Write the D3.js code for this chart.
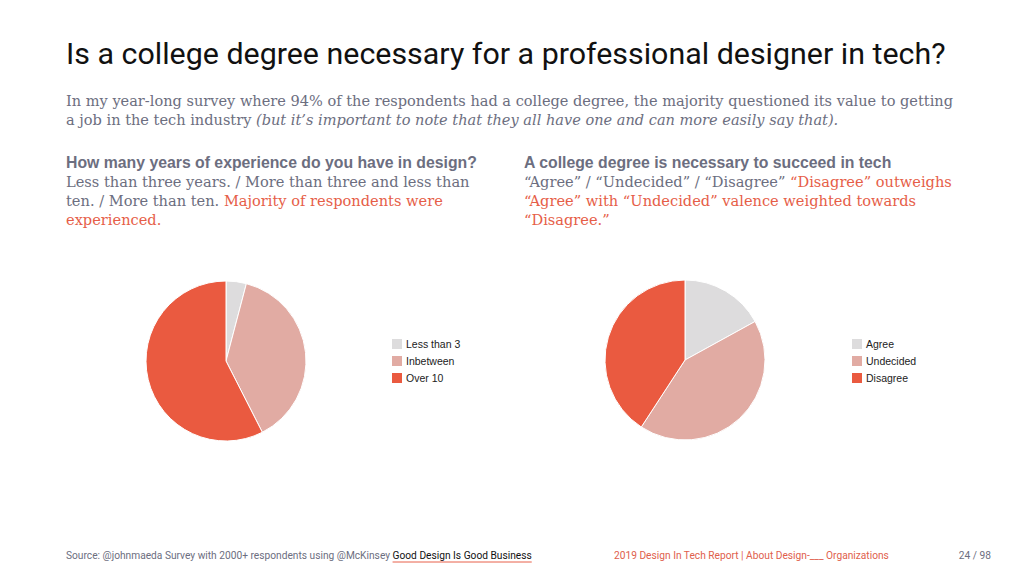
<!DOCTYPE html>
<html><head><meta charset="utf-8">
<script src="https://cdn.jsdelivr.net/npm/d3@7"></script>
<style>
body{margin:0;background:#fff;}
svg{display:block;}
</style></head>
<body>
<svg id="chart" width="1024" height="575"></svg>
<script>
const experienceCategories = ["Less than 3", "Inbetween", "Over 10"];
const experienceValues = [4.1, 38.4, 57.5];
const degreeCategories = ["Agree", "Undecided", "Disagree"];
const degreeValues = [17.0, 42.2, 40.8];
const sliceColors = ["#dddcdd", "#e1aba3", "#ea5a40"];

const GRAY = "#6c6e80", RED = "#e65e48";
const svg = d3.select("#chart");
svg.append("rect").attr("width",1024).attr("height",575).attr("fill","#fff");

// Title
svg.append("text").attr("x",66).attr("y",64)
  .attr("font-family","Roboto").attr("font-size",30.4).attr("fill","#111")
  .text("Is a college degree necessary for a professional designer in tech?");

function rich(x, y, lines, opts){
  const t = svg.append("text").attr("x",x).attr("y",y)
    .attr("font-family",opts.family).attr("font-size",opts.size);
  lines.forEach((segs, i) => {
    segs.forEach((s, j) => {
      const ts = t.append("tspan").text(s.t).attr("fill", s.c || GRAY);
      if (j === 0) ts.attr("x", x).attr("dy", i === 0 ? 0 : opts.lh);
      if (s.i) ts.attr("font-style","italic");
      if (s.b) ts.attr("font-weight","bold");
      if (s.f) ts.attr("font-family", s.f).attr("font-size", s.s);
    });
  });
  return t;
}
const SERIF = "'DejaVu Serif'";
const HEAD = "'Liberation Sans', Arial";
rich(66, 106, [
  [{t:"In my year-long survey where 94% of the respondents had a college degree, the majority questioned its value to getting"}],
  [{t:"a job in the tech industry "},{t:"(but it’s important to note that they all have one and can more easily say that).", i:true}]
], {family:SERIF, size:14.55, lh:19});

rich(66, 168, [
  [{t:"How many years of experience do you have in design?", b:true, f:HEAD, s:15.8}],
  [{t:"Less than three years. / More than three and less than"}],
  [{t:"ten. / More than ten. "},{t:"Majority of respondents were", c:RED}],
  [{t:"experienced.", c:RED}]
], {family:SERIF, size:14.6, lh:19});

rich(524, 168, [
  [{t:"A college degree is necessary to succeed in tech", b:true, f:HEAD, s:15.8}],
  [{t:"“Agree” / “Undecided” / “Disagree” "},{t:"“Disagree” outweighs", c:RED}],
  [{t:"“Agree” with “Undecided” valence weighted towards", c:RED}],
  [{t:"“Disagree.”", c:RED}]
], {family:SERIF, size:14.6, lh:19});

function drawPie(cx, cy, r, cats, vals, legX, legY){
  const pie = d3.pie().sort(null).value(d => d);
  const arc = d3.arc().innerRadius(0).outerRadius(r);
  const color = d3.scaleOrdinal().domain(cats).range(sliceColors);
  const g = svg.append("g").attr("transform",`translate(${cx},${cy})`);
  g.selectAll("path").data(pie(vals)).join("path")
    .attr("d", arc).attr("fill", (d,i) => color(cats[i]))
    .attr("stroke","#fff").attr("stroke-width",1);
  const y = d3.scaleBand().domain(cats).range([legY, legY + 51]);
  const lg = svg.append("g");
  lg.selectAll("rect").data(cats).join("rect")
    .attr("x", legX).attr("y", d => y(d) + 3).attr("width",10).attr("height",10)
    .attr("fill", d => color(d));
  lg.selectAll("text").data(cats).join("text")
    .attr("x", legX + 14).attr("y", d => y(d) + 12)
    .attr("font-family","'Liberation Sans', Arial").attr("font-size",10.5).attr("fill","#222")
    .text(d => d);
}
drawPie(226, 361, 80, experienceCategories, experienceValues, 392, 336);
drawPie(685, 360, 80, degreeCategories, degreeValues, 852, 336);

// Footer
const ft = svg.append("text").attr("x",66).attr("y",559)
  .attr("font-family","Roboto").attr("font-size",10.2).attr("fill","#6c6e80");
ft.append("tspan").text("Source: @johnmaeda Survey with 2000+ respondents using @McKinsey ");
const link = ft.append("tspan").attr("fill","#111").text("Good Design Is Good Business");
const nChars = link.text().length;
const totalBefore = ft.node().getNumberOfChars() - nChars;
const sx = ft.node().getStartPositionOfChar(totalBefore).x;
const ex = ft.node().getEndPositionOfChar(totalBefore + nChars - 1).x;
svg.append("line").attr("x1",sx).attr("x2",ex).attr("y1",562).attr("y2",562)
  .attr("stroke","#e8604a").attr("stroke-width",1);
svg.append("text").attr("x",614).attr("y",559)
  .attr("font-family","Roboto").attr("font-size",10.2).attr("fill","#e0604c")
  .text("2019 Design In Tech Report | About Design-___ Organizations");
svg.append("text").attr("x",991).attr("y",559).attr("text-anchor","end")
  .attr("font-family","Roboto").attr("font-size",10.2).attr("fill","#6c6e80")
  .text("24 / 98");
</script>
</body></html>
